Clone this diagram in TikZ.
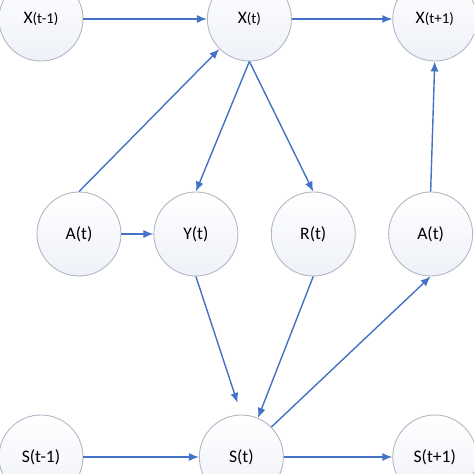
\documentclass[tikz,border=0pt]{standalone}
\usepackage{fontspec}
\setmainfont{Carlito}
\usetikzlibrary{positioning,arrows.meta}
\definecolor{arrowblue}{HTML}{4472C4}
\definecolor{ringgray}{HTML}{B1B6C4}
\definecolor{fillblue}{HTML}{EEF1F8}

\begin{document}
\begin{tikzpicture}
\tikzstyle{main}=[circle, minimum size = 16.8mm, inner sep=0pt, draw=ringgray, line width=0.5pt, top color=white, bottom color=fillblue, font=\fontsize{10}{12}\selectfont]
\tikzstyle{connect}=[-{Latex[length=2mm,width=1.6mm]}, line width=0.8pt, draw=arrowblue]
  \clip (0,0) rectangle (9.48,-9.48);
  \node[main] (xprev) at (0.82,-0.38) {X{\fontsize{8.5}{10}\selectfont(t-1)}};
  \node[main] (x) [right=24.7mm of xprev] {X{\fontsize{8.5}{10}\selectfont(t)}};
  \node[main] (xnext) [right=20.1mm of x] {X{\fontsize{8.5}{10}\selectfont(t+1)}};

  \node[main] (a) at (1.58,-4.68) {A(t)};
  \node[main] (y) [right=6.4mm of a] {Y(t)};
  \node[main] (r) [right=6.5mm of y] {R(t)};
  \node[main] (a') [right=6.5mm of r] {A(t)};

  \node[main] (sprev) at (0.82,-9.14) {S(t-1)};
  \node[main] (s) [right=23.1mm of sprev] {S(t)};
  \node[main] (snext) [right=21.7mm of s] {S(t+1)};

  \path (xprev) edge [connect] (x)
    (x) edge [connect] (xnext)
    (a.north) edge [connect] (x.225)
    (x.south) edge [connect] (y.north)
    (x.south) edge [connect] (r.north)
    (a) edge [connect] (y)
    (a'.north) edge [connect] (xnext.south)
    (y.south) edge [connect, shorten >=7pt] (s.north)
    (r.south) edge [connect] (s.67)
    (s.45) edge [connect] (a'.south)
    (sprev) edge [connect] (s)
    (s) edge [connect] (snext);
\end{tikzpicture}
\end{document}
